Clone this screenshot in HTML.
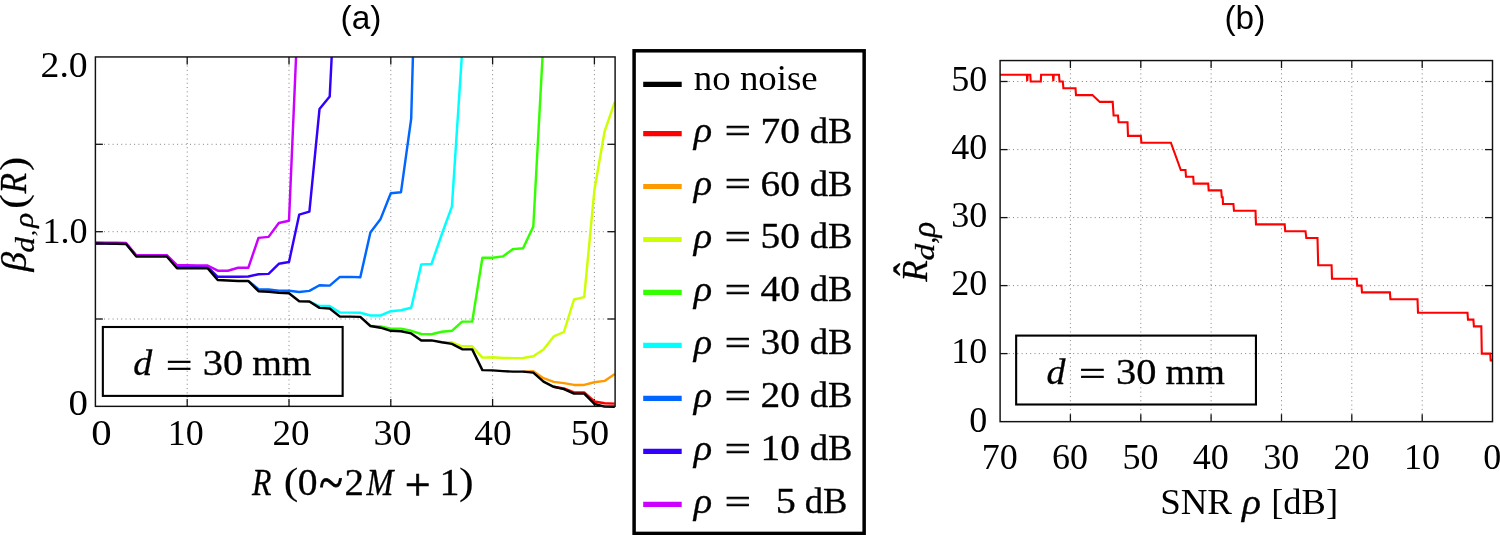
<!DOCTYPE html>
<html><head><meta charset="utf-8"><title>figure</title>
<style>html,body{margin:0;padding:0;background:#fff}svg{display:block}text{font-family:"Liberation Serif",serif;fill:#000}.it{font-style:italic}.sans{font-family:"Liberation Sans",sans-serif}</style></head><body>
<svg width="1500" height="535" viewBox="0 0 1500 535">
<rect x="0" y="0" width="1500" height="535" fill="#fff"/>
<defs><clipPath id="ca"><rect x="95.4" y="57.0" width="519.7" height="351.6"/></clipPath>
<clipPath id="cb"><rect x="1000.1" y="60.5" width="492.4" height="361.1"/></clipPath></defs>
<g id="plot-a">
<line x1="187.2" y1="56.95" x2="187.2" y2="406.4" stroke="#808080" stroke-width="1" stroke-dasharray="1 3.3"/>
<line x1="289.0" y1="56.95" x2="289.0" y2="406.4" stroke="#808080" stroke-width="1" stroke-dasharray="1 3.3"/>
<line x1="390.8" y1="56.95" x2="390.8" y2="406.4" stroke="#808080" stroke-width="1" stroke-dasharray="1 3.3"/>
<line x1="492.6" y1="56.95" x2="492.6" y2="406.4" stroke="#808080" stroke-width="1" stroke-dasharray="1 3.3"/>
<line x1="594.4" y1="56.95" x2="594.4" y2="406.4" stroke="#808080" stroke-width="1" stroke-dasharray="1 3.3"/>
<line x1="95.4" y1="319.0" x2="615.1" y2="319.0" stroke="#808080" stroke-width="1" stroke-dasharray="1 3.3"/>
<line x1="95.4" y1="231.7" x2="615.1" y2="231.7" stroke="#808080" stroke-width="1" stroke-dasharray="1 3.3"/>
<line x1="95.4" y1="144.3" x2="615.1" y2="144.3" stroke="#808080" stroke-width="1" stroke-dasharray="1 3.3"/>
<line x1="187.2" y1="406.4" x2="187.2" y2="398.9" stroke="#141414" stroke-width="1.3"/>
<line x1="187.2" y1="56.95" x2="187.2" y2="64.45" stroke="#141414" stroke-width="1.3"/>
<line x1="289.0" y1="406.4" x2="289.0" y2="398.9" stroke="#141414" stroke-width="1.3"/>
<line x1="289.0" y1="56.95" x2="289.0" y2="64.45" stroke="#141414" stroke-width="1.3"/>
<line x1="390.8" y1="406.4" x2="390.8" y2="398.9" stroke="#141414" stroke-width="1.3"/>
<line x1="390.8" y1="56.95" x2="390.8" y2="64.45" stroke="#141414" stroke-width="1.3"/>
<line x1="492.6" y1="406.4" x2="492.6" y2="398.9" stroke="#141414" stroke-width="1.3"/>
<line x1="492.6" y1="56.95" x2="492.6" y2="64.45" stroke="#141414" stroke-width="1.3"/>
<line x1="594.4" y1="406.4" x2="594.4" y2="398.9" stroke="#141414" stroke-width="1.3"/>
<line x1="594.4" y1="56.95" x2="594.4" y2="64.45" stroke="#141414" stroke-width="1.3"/>
<line x1="95.4" y1="319.0" x2="102.9" y2="319.0" stroke="#141414" stroke-width="1.3"/>
<line x1="615.1" y1="319.0" x2="607.6" y2="319.0" stroke="#141414" stroke-width="1.3"/>
<line x1="95.4" y1="231.7" x2="102.9" y2="231.7" stroke="#141414" stroke-width="1.3"/>
<line x1="615.1" y1="231.7" x2="607.6" y2="231.7" stroke="#141414" stroke-width="1.3"/>
<line x1="95.4" y1="144.3" x2="102.9" y2="144.3" stroke="#141414" stroke-width="1.3"/>
<line x1="615.1" y1="144.3" x2="607.6" y2="144.3" stroke="#141414" stroke-width="1.3"/>
<g clip-path="url(#ca)" fill="none" stroke-linejoin="round" stroke-linecap="butt">
<polyline points="95.6,243.2 105.8,243.3 115.9,243.5 126.1,243.7 136.3,255.7 146.5,255.7 156.7,255.7 166.8,255.7 177.0,267.0 187.2,267.0 197.4,267.0 207.6,267.0 217.7,276.8 227.9,276.8 238.1,276.8 248.3,276.5 258.5,274.2 268.6,273.9 278.8,263.8 289.0,262.0 299.2,214.7 309.4,211.6 319.5,109.1 329.7,96.6 339.9,-107.0" stroke="#3300ff" stroke-width="2.45"/>
<polyline points="95.6,242.5 105.8,242.6 115.9,242.8 126.1,243.0 136.3,255.2 146.5,255.2 156.7,255.2 166.8,255.2 177.0,265.2 187.2,265.3 197.4,265.4 207.6,265.5 217.7,270.7 227.9,270.7 238.1,267.8 248.3,267.8 258.5,237.9 268.6,236.9 278.8,223.0 289.0,220.7 299.2,-16.0" stroke="#cc00ff" stroke-width="2.45"/>
<polyline points="248.3,281.0 258.5,289.2 268.6,289.5 278.8,290.6 289.0,290.8 299.2,292.0 309.4,290.9 319.5,285.2 329.7,285.6 339.9,276.9 350.1,276.9 360.3,277.2 370.4,232.6 380.6,218.9 390.8,193.2 401.0,192.2 411.2,118.6 421.3,-245.0" stroke="#0066ff" stroke-width="2.45"/>
<polyline points="309.4,301.5 319.5,306.0 329.7,306.0 339.9,312.6 350.1,312.6 360.3,312.8 370.4,315.5 380.6,315.5 390.8,311.2 401.0,310.3 411.2,307.7 421.3,264.4 431.5,264.0 441.7,234.5 451.9,206.7 462.1,52.0 472.2,-100.0" stroke="#00ffff" stroke-width="2.45"/>
<polyline points="370.4,326.0 380.6,326.5 390.8,328.6 401.0,328.6 411.2,330.8 421.3,334.0 431.5,334.3 441.7,331.7 451.9,330.8 462.1,321.6 472.2,321.6 482.4,257.8 492.6,257.8 502.8,256.4 513.0,249.1 523.1,248.2 533.3,226.5 543.5,39.0" stroke="#33ff00" stroke-width="2.45"/>
<polyline points="441.7,342.3 451.9,342.3 462.1,346.3 472.2,346.3 482.4,357.6 492.6,357.2 502.8,358.0 513.0,358.1 523.1,358.0 533.3,356.2 543.5,349.4 553.7,336.4 563.9,332.0 574.0,299.5 584.2,297.1 594.4,190.0 604.6,131.3 614.8,101.8" stroke="#ccff00" stroke-width="2.45"/>
<polyline points="523.1,371.6 533.3,371.3 543.5,378.2 553.7,381.9 563.9,383.1 574.0,384.9 584.2,384.9 594.4,382.3 604.6,380.9 614.8,374.1" stroke="#ff9900" stroke-width="2.45"/>
<polyline points="553.7,386.8 563.9,388.5 574.0,392.5 584.2,392.5 594.4,401.5 604.6,403.3 614.8,403.6" stroke="#ff0000" stroke-width="2.45"/>
<polyline points="95.6,243.5 105.8,243.6 115.9,243.8 126.1,244.0 136.3,256.5 146.5,256.5 156.7,256.5 166.8,256.5 177.0,268.3 187.2,268.3 197.4,268.3 207.6,268.3 217.7,280.0 227.9,280.5 238.1,281.0 248.3,281.0 258.5,291.2 268.6,291.7 278.8,292.8 289.0,293.2 299.2,301.2 309.4,301.5 319.5,307.9 329.7,308.5 339.9,316.6 350.1,316.6 360.3,316.9 370.4,326.0 380.6,327.7 390.8,330.8 401.0,331.2 411.2,333.4 421.3,340.4 431.5,340.4 441.7,342.3 451.9,343.9 462.1,349.2 472.2,349.4 482.4,370.1 492.6,370.4 502.8,371.1 513.0,371.6 523.1,371.6 533.3,372.6 543.5,381.6 553.7,386.8 563.9,389.1 574.0,393.6 584.2,393.6 594.4,404.0 604.6,406.6 614.8,406.7" stroke="#000000" stroke-width="2.45"/>
</g>
<rect x="95.4" y="56.95" width="519.7" height="349.4" stroke="#111" stroke-width="1.45" fill="none"/>
<rect x="102.85" y="327.00" width="239.8" height="68.9" fill="none" stroke="#000" stroke-width="2.1"/>
<text class="it" font-size="36" transform="translate(133.25,375.20) scale(1.053,1.008)" stroke="#000" stroke-width="0.3">d</text>
<text font-size="36" transform="translate(166.03,376.51) scale(1.296,0.928)" stroke="#000" stroke-width="0.7">=</text>
<text font-size="36" transform="translate(202.73,375.20) scale(1.124,1.000)" stroke="#000" stroke-width="0.3">30</text>
<text font-size="36" transform="translate(252.21,375.20) scale(1.059,1.000)" stroke="#000" stroke-width="0.3">mm</text>
<text font-size="36" transform="translate(40.53,76.60) scale(1.048,1.000)">2.0</text>
<text font-size="36" transform="translate(42.44,243.00) scale(1.004,1.000)">1.0</text>
<text font-size="36" transform="translate(68.58,414.90) scale(1.080,1.000)">0</text>
<text font-size="36" transform="translate(91.30,445.00) scale(1.133,1.000)">0</text>
<text font-size="36" transform="translate(167.76,445.00) scale(0.998,1.000)">10</text>
<text font-size="36" transform="translate(272.45,445.00) scale(1.030,1.000)">20</text>
<text font-size="36" transform="translate(373.45,445.00) scale(1.060,1.000)">30</text>
<text font-size="36" transform="translate(474.22,445.00) scale(1.037,1.000)">40</text>
<text font-size="36" transform="translate(570.87,445.00) scale(1.065,1.000)">50</text>
<text class="it" font-size="36" transform="translate(251.92,494.80) scale(0.884,1.060)" stroke="#000" stroke-width="0.3">R</text>
<text font-size="36" transform="translate(283.68,493.99) scale(1.211,1.068)" stroke="#000" stroke-width="0.1">(</text>
<text font-size="36" transform="translate(297.65,494.80) scale(1.100,1.050)" stroke="#000" stroke-width="0.3">0</text>
<text font-size="36" transform="translate(319.19,499.20) scale(1.206,1.383)" stroke="#000" stroke-width="0.6">~</text>
<text font-size="36" transform="translate(344.49,494.80) scale(1.076,1.048)" stroke="#000" stroke-width="0.3">2</text>
<text class="it" font-size="36" transform="translate(366.45,494.80) scale(0.897,1.060)" stroke="#000" stroke-width="0.3">M</text>
<text font-size="36" transform="translate(404.77,499.60) scale(1.272,1.313)" stroke="#000" stroke-width="0.5">+</text>
<text font-size="36" transform="translate(439.59,494.80) scale(1.112,1.048)" stroke="#000" stroke-width="0.3">1</text>
<text font-size="36" transform="translate(458.97,493.93) scale(1.222,1.076)" stroke="#000" stroke-width="0.1">)</text>
<text class="it" font-size="36" transform="rotate(-90) translate(-271.45,25.97) scale(1.096,0.985)" stroke="#000" stroke-width="0.3">β</text>
<text class="it" font-size="27" transform="rotate(-90) translate(-252.86,34.10) scale(1.153,1.013)" stroke="#000" stroke-width="0.3">d</text>
<text class="it" font-size="27" transform="rotate(-90) translate(-236.07,33.74) scale(0.875,0.815)" stroke="#000" stroke-width="0.2">,</text>
<text class="it" font-size="27" transform="rotate(-90) translate(-227.85,32.99) scale(1.153,1.050)" stroke="#000" stroke-width="0.3">ρ</text>
<text font-size="36" transform="rotate(-90) translate(-209.08,26.08) scale(1.254,1.055)" stroke="#000" stroke-width="0.1">(</text>
<text class="it" font-size="36" transform="rotate(-90) translate(-193.57,26.10) scale(0.935,1.034)" stroke="#000" stroke-width="0.3">R</text>
<text font-size="36" transform="rotate(-90) translate(-170.99,26.02) scale(1.189,1.064)" stroke="#000" stroke-width="0.1">)</text>
<text class="sans" font-size="33" transform="translate(340.57,28.97) scale(1.015,1.011)">(a)</text>
</g>
<g id="legend">
<rect x="634.1" y="50.8" width="230.05" height="482.6" fill="#fff" stroke="#000" stroke-width="3.5"/>
<line x1="643.2" y1="84.4" x2="681.7" y2="84.4" stroke="#000000" stroke-width="5.2"/>
<text font-size="36" transform="translate(693.83,90.20) scale(1.024,1.000)">no noise</text>
<line x1="643.2" y1="133.6" x2="681.7" y2="133.6" stroke="#ff0000" stroke-width="5.2"/>
<text class="it" font-size="36" transform="translate(693.80,142.00) scale(1.065,1.000)" stroke="#000" stroke-width="0.3">ρ</text>
<text font-size="36" transform="translate(724.66,143.47) scale(1.278,0.989)" stroke="#000" stroke-width="0.7">=</text>
<text font-size="36" transform="translate(760.61,142.55) scale(1.095,1.000)" stroke="#000" stroke-width="0.3">70</text>
<text font-size="36" transform="translate(809.73,142.55) scale(1.018,1.000)" stroke="#000" stroke-width="0.3">dB</text>
<line x1="643.2" y1="186.5" x2="681.7" y2="186.5" stroke="#ff9900" stroke-width="5.2"/>
<text class="it" font-size="36" transform="translate(693.80,194.96) scale(1.065,1.000)" stroke="#000" stroke-width="0.3">ρ</text>
<text font-size="36" transform="translate(724.66,196.43) scale(1.278,0.989)" stroke="#000" stroke-width="0.7">=</text>
<text font-size="36" transform="translate(760.61,195.51) scale(1.095,1.000)" stroke="#000" stroke-width="0.3">60</text>
<text font-size="36" transform="translate(809.73,195.51) scale(1.018,1.000)" stroke="#000" stroke-width="0.3">dB</text>
<line x1="643.2" y1="239.5" x2="681.7" y2="239.5" stroke="#ccff00" stroke-width="5.2"/>
<text class="it" font-size="36" transform="translate(693.80,247.92) scale(1.065,1.000)" stroke="#000" stroke-width="0.3">ρ</text>
<text font-size="36" transform="translate(724.66,249.39) scale(1.278,0.989)" stroke="#000" stroke-width="0.7">=</text>
<text font-size="36" transform="translate(760.61,248.47) scale(1.095,1.000)" stroke="#000" stroke-width="0.3">50</text>
<text font-size="36" transform="translate(809.73,248.47) scale(1.018,1.000)" stroke="#000" stroke-width="0.3">dB</text>
<line x1="643.2" y1="292.4" x2="681.7" y2="292.4" stroke="#33ff00" stroke-width="5.2"/>
<text class="it" font-size="36" transform="translate(693.80,300.88) scale(1.065,1.000)" stroke="#000" stroke-width="0.3">ρ</text>
<text font-size="36" transform="translate(724.66,302.35) scale(1.278,0.989)" stroke="#000" stroke-width="0.7">=</text>
<text font-size="36" transform="translate(760.61,301.43) scale(1.095,1.000)" stroke="#000" stroke-width="0.3">40</text>
<text font-size="36" transform="translate(809.73,301.43) scale(1.018,1.000)" stroke="#000" stroke-width="0.3">dB</text>
<line x1="643.2" y1="345.4" x2="681.7" y2="345.4" stroke="#00ffff" stroke-width="5.2"/>
<text class="it" font-size="36" transform="translate(693.80,353.84) scale(1.065,1.000)" stroke="#000" stroke-width="0.3">ρ</text>
<text font-size="36" transform="translate(724.66,355.31) scale(1.278,0.989)" stroke="#000" stroke-width="0.7">=</text>
<text font-size="36" transform="translate(760.61,354.39) scale(1.095,1.000)" stroke="#000" stroke-width="0.3">30</text>
<text font-size="36" transform="translate(809.73,354.39) scale(1.018,1.000)" stroke="#000" stroke-width="0.3">dB</text>
<line x1="643.2" y1="398.4" x2="681.7" y2="398.4" stroke="#0066ff" stroke-width="5.2"/>
<text class="it" font-size="36" transform="translate(693.80,406.80) scale(1.065,1.000)" stroke="#000" stroke-width="0.3">ρ</text>
<text font-size="36" transform="translate(724.66,408.27) scale(1.278,0.989)" stroke="#000" stroke-width="0.7">=</text>
<text font-size="36" transform="translate(760.61,407.35) scale(1.095,1.000)" stroke="#000" stroke-width="0.3">20</text>
<text font-size="36" transform="translate(809.73,407.35) scale(1.018,1.000)" stroke="#000" stroke-width="0.3">dB</text>
<line x1="643.2" y1="451.3" x2="681.7" y2="451.3" stroke="#3300ff" stroke-width="5.2"/>
<text class="it" font-size="36" transform="translate(693.80,459.76) scale(1.065,1.000)" stroke="#000" stroke-width="0.3">ρ</text>
<text font-size="36" transform="translate(724.66,461.23) scale(1.278,0.989)" stroke="#000" stroke-width="0.7">=</text>
<text font-size="36" transform="translate(760.61,460.31) scale(1.095,1.000)" stroke="#000" stroke-width="0.3">10</text>
<text font-size="36" transform="translate(809.73,460.31) scale(1.018,1.000)" stroke="#000" stroke-width="0.3">dB</text>
<line x1="643.2" y1="504.3" x2="681.7" y2="504.3" stroke="#cc00ff" stroke-width="5.2"/>
<text class="it" font-size="36" transform="translate(693.80,512.72) scale(1.065,1.000)" stroke="#000" stroke-width="0.3">ρ</text>
<text font-size="36" transform="translate(724.66,514.19) scale(1.278,0.989)" stroke="#000" stroke-width="0.7">=</text>
<text font-size="36" transform="translate(775.77,513.27) scale(1.117,1.000)" stroke="#000" stroke-width="0.3">5</text>
<text font-size="36" transform="translate(804.73,513.27) scale(1.018,1.000)" stroke="#000" stroke-width="0.3">dB</text>
</g>
<g id="plot-b">
<line x1="1070.4" y1="60.55" x2="1070.4" y2="421.7" stroke="#808080" stroke-width="1" stroke-dasharray="1 3.3"/>
<line x1="1140.8" y1="60.55" x2="1140.8" y2="421.7" stroke="#808080" stroke-width="1" stroke-dasharray="1 3.3"/>
<line x1="1211.1" y1="60.55" x2="1211.1" y2="421.7" stroke="#808080" stroke-width="1" stroke-dasharray="1 3.3"/>
<line x1="1281.5" y1="60.55" x2="1281.5" y2="421.7" stroke="#808080" stroke-width="1" stroke-dasharray="1 3.3"/>
<line x1="1351.8" y1="60.55" x2="1351.8" y2="421.7" stroke="#808080" stroke-width="1" stroke-dasharray="1 3.3"/>
<line x1="1422.2" y1="60.55" x2="1422.2" y2="421.7" stroke="#808080" stroke-width="1" stroke-dasharray="1 3.3"/>
<line x1="1000.1" y1="353.6" x2="1492.5" y2="353.6" stroke="#808080" stroke-width="1" stroke-dasharray="1 3.3"/>
<line x1="1000.1" y1="285.6" x2="1492.5" y2="285.6" stroke="#808080" stroke-width="1" stroke-dasharray="1 3.3"/>
<line x1="1000.1" y1="217.6" x2="1492.5" y2="217.6" stroke="#808080" stroke-width="1" stroke-dasharray="1 3.3"/>
<line x1="1000.1" y1="149.6" x2="1492.5" y2="149.6" stroke="#808080" stroke-width="1" stroke-dasharray="1 3.3"/>
<line x1="1000.1" y1="81.5" x2="1492.5" y2="81.5" stroke="#808080" stroke-width="1" stroke-dasharray="1 3.3"/>
<line x1="1070.4" y1="421.7" x2="1070.4" y2="414.2" stroke="#141414" stroke-width="1.3"/>
<line x1="1070.4" y1="60.55" x2="1070.4" y2="68.05" stroke="#141414" stroke-width="1.3"/>
<line x1="1140.8" y1="421.7" x2="1140.8" y2="414.2" stroke="#141414" stroke-width="1.3"/>
<line x1="1140.8" y1="60.55" x2="1140.8" y2="68.05" stroke="#141414" stroke-width="1.3"/>
<line x1="1211.1" y1="421.7" x2="1211.1" y2="414.2" stroke="#141414" stroke-width="1.3"/>
<line x1="1211.1" y1="60.55" x2="1211.1" y2="68.05" stroke="#141414" stroke-width="1.3"/>
<line x1="1281.5" y1="421.7" x2="1281.5" y2="414.2" stroke="#141414" stroke-width="1.3"/>
<line x1="1281.5" y1="60.55" x2="1281.5" y2="68.05" stroke="#141414" stroke-width="1.3"/>
<line x1="1351.8" y1="421.7" x2="1351.8" y2="414.2" stroke="#141414" stroke-width="1.3"/>
<line x1="1351.8" y1="60.55" x2="1351.8" y2="68.05" stroke="#141414" stroke-width="1.3"/>
<line x1="1422.2" y1="421.7" x2="1422.2" y2="414.2" stroke="#141414" stroke-width="1.3"/>
<line x1="1422.2" y1="60.55" x2="1422.2" y2="68.05" stroke="#141414" stroke-width="1.3"/>
<line x1="1000.1" y1="353.6" x2="1007.6" y2="353.6" stroke="#141414" stroke-width="1.3"/>
<line x1="1492.5" y1="353.6" x2="1485.0" y2="353.6" stroke="#141414" stroke-width="1.3"/>
<line x1="1000.1" y1="285.6" x2="1007.6" y2="285.6" stroke="#141414" stroke-width="1.3"/>
<line x1="1492.5" y1="285.6" x2="1485.0" y2="285.6" stroke="#141414" stroke-width="1.3"/>
<line x1="1000.1" y1="217.6" x2="1007.6" y2="217.6" stroke="#141414" stroke-width="1.3"/>
<line x1="1492.5" y1="217.6" x2="1485.0" y2="217.6" stroke="#141414" stroke-width="1.3"/>
<line x1="1000.1" y1="149.6" x2="1007.6" y2="149.6" stroke="#141414" stroke-width="1.3"/>
<line x1="1492.5" y1="149.6" x2="1485.0" y2="149.6" stroke="#141414" stroke-width="1.3"/>
<line x1="1000.1" y1="81.5" x2="1007.6" y2="81.5" stroke="#141414" stroke-width="1.3"/>
<line x1="1492.5" y1="81.5" x2="1485.0" y2="81.5" stroke="#141414" stroke-width="1.3"/>
<polyline clip-path="url(#cb)" fill="none" stroke="#ff0000" stroke-width="2.1" stroke-linejoin="miter" points="999.9,74.7 1026.9,74.7 1027.2,81.2 1027.7,74.7 1030.3,74.7 1030.7,81.5 1040.8,81.5 1041.1,74.7 1052.9,74.7 1053.3,81.2 1053.8,74.7 1059.0,74.7 1059.5,81.5 1062.8,81.5 1063.4,88.3 1075.5,88.3 1076.0,95.1 1092.4,95.1 1099.8,101.9 1112.7,101.9 1113.6,115.5 1118.0,115.5 1118.6,122.3 1127.5,122.3 1128.0,135.9 1140.8,135.9 1141.4,142.7 1170.9,142.7 1180.8,170.0 1185.5,170.0 1186.0,176.8 1193.2,176.8 1193.7,183.6 1208.2,183.6 1208.7,190.4 1221.2,190.4 1221.8,197.2 1222.7,197.2 1223.0,204.0 1233.4,204.0 1234.0,210.8 1255.5,210.8 1256.0,224.4 1284.7,224.4 1285.2,231.2 1305.5,231.2 1306.3,238.0 1317.5,238.0 1318.2,265.2 1331.6,265.2 1332.0,278.8 1356.7,278.8 1357.2,285.6 1361.5,285.6 1362.0,292.4 1389.9,292.4 1390.4,299.2 1417.5,299.2 1418.0,312.8 1467.5,312.8 1468.0,319.6 1473.4,319.6 1473.9,326.4 1481.3,326.4 1481.8,353.6 1490.2,353.6 1490.7,360.4 1492.6,360.4"/>
<rect x="1000.1" y="60.55" width="492.4" height="361.1" stroke="#111" stroke-width="1.45" fill="none"/>
<rect x="1016.15" y="335.60" width="239.8" height="68.9" fill="none" stroke="#000" stroke-width="2.1"/>
<text class="it" font-size="36" transform="translate(1046.55,383.80) scale(1.053,1.008)" stroke="#000" stroke-width="0.3">d</text>
<text font-size="36" transform="translate(1079.33,385.11) scale(1.296,0.928)" stroke="#000" stroke-width="0.7">=</text>
<text font-size="36" transform="translate(1116.03,383.80) scale(1.124,1.000)" stroke="#000" stroke-width="0.3">30</text>
<text font-size="36" transform="translate(1165.51,383.80) scale(1.059,1.000)" stroke="#000" stroke-width="0.3">mm</text>
<text font-size="36" text-anchor="end" x="987.3" y="431.5">0</text>
<text font-size="36" text-anchor="end" x="987.3" y="363.4">10</text>
<text font-size="36" text-anchor="end" x="987.3" y="295.4">20</text>
<text font-size="36" text-anchor="end" x="987.3" y="227.4">30</text>
<text font-size="36" text-anchor="end" x="987.3" y="159.4">40</text>
<text font-size="36" text-anchor="end" x="987.3" y="91.3">50</text>
<text font-size="36" text-anchor="middle" x="999.8" y="468.5">70</text>
<text font-size="36" text-anchor="middle" x="1070.1" y="468.5">60</text>
<text font-size="36" text-anchor="middle" x="1140.5" y="468.5">50</text>
<text font-size="36" text-anchor="middle" x="1210.8" y="468.5">40</text>
<text font-size="36" text-anchor="middle" x="1281.2" y="468.5">30</text>
<text font-size="36" text-anchor="middle" x="1351.5" y="468.5">20</text>
<text font-size="36" text-anchor="middle" x="1421.9" y="468.5">10</text>
<text font-size="36" text-anchor="middle" x="1492.2" y="468.5">0</text>
<text font-size="36" transform="translate(1160.13,513.80) scale(1.027,1.000)">SNR</text>
<text class="it" font-size="36" transform="translate(1242.12,513.54) scale(1.100,0.976)" stroke="#000" stroke-width="0.3">ρ</text>
<text font-size="36" transform="translate(1271.21,513.80) scale(1.013,1.000)">[dB]</text>
<text font-size="36" transform="rotate(-90) translate(-275.77,922.67) scale(1.061,1.143)" stroke="#000" stroke-width="0.3">ˆ</text>
<text class="it" font-size="36" transform="rotate(-90) translate(-281.76,927.00) scale(0.977,1.013)" stroke="#000" stroke-width="0.3">R</text>
<text class="it" font-size="27" transform="rotate(-90) translate(-260.43,933.50) scale(1.239,1.019)" stroke="#000" stroke-width="0.3">d</text>
<text class="it" font-size="27" transform="rotate(-90) translate(-243.75,934.85) scale(1.050,1.037)" stroke="#000" stroke-width="0.2">,</text>
<text class="it" font-size="27" transform="rotate(-90) translate(-237.42,934.61) scale(1.208,1.219)" stroke="#000" stroke-width="0.3">ρ</text>
<text class="sans" font-size="33" transform="translate(1224.48,28.97) scale(1.012,1.011)">(b)</text>
</g>
</svg></body></html>
